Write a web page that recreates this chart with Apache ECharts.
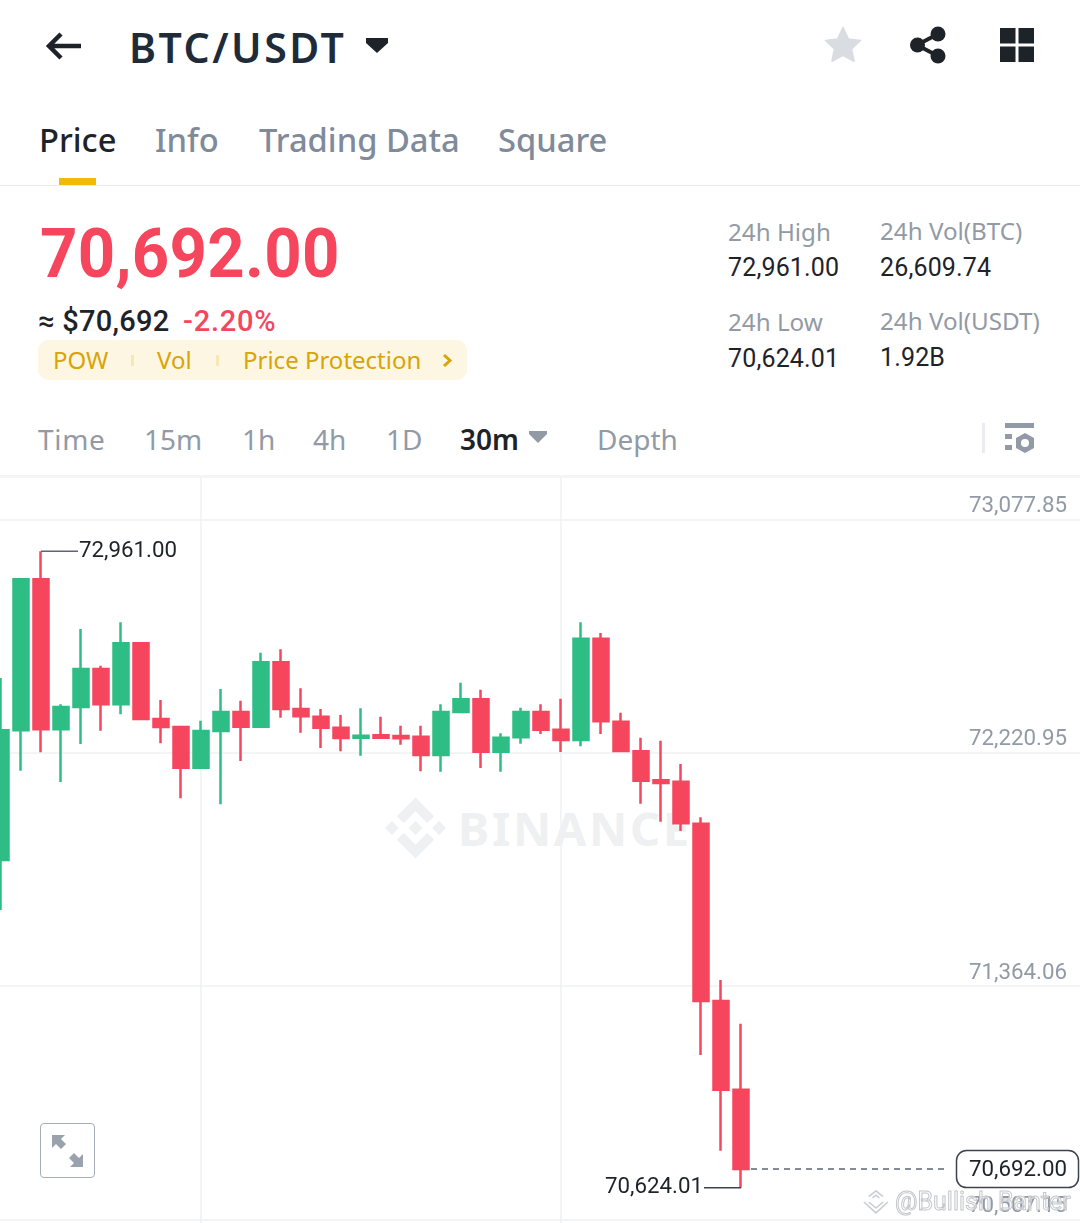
<!DOCTYPE html>
<html>
<head>
<meta charset="utf-8">
<title>BTC/USDT</title>
<script src="https://cdn.jsdelivr.net/npm/echarts@6/dist/echarts.min.js"></script>
<style>
  html, body { margin: 0; padding: 0; background: #fff; }
  #page { position: relative; width: 1080px; height: 1223px; overflow: hidden; font-family: 'Noto Sans', sans-serif; color: #1E2329; }
  #page span { position: absolute; white-space: nowrap; transform: translateY(-50%); line-height: 1; }
  #page svg, #page .box { position: absolute; }
  .tab { font-size: 32.7px; font-weight: 500; color: #7F8A9A; }
  .muted { font-size: 24.2px; color: #929AA5; }
  .stat { font-size: 25px; font-family: Roboto, sans-serif; letter-spacing: 0.15px; color: #1E2329; }
  .iv { font-size: 28px; color: #929AA5; }
  .chip { font-size: 24px; color: #D9A406; }
  /* 画布左右各多出一点，让 K 线间距正好 20px */
  #chart { position: absolute; left: -9px; top: 477px; width: 1100px; height: 746px; }
</style>
</head>
<body>
<div id="page">
  <!-- 顶栏 -->
  <svg style="left:44px;top:30px" width="40" height="32" viewBox="0 0 40 32"><path d="M37 16H5M17 4L5 16l12 12" fill="none" stroke="#1E2329" stroke-width="4.5"/></svg>
  <span style="left:129px;top:47px;font-size:41px;font-weight:600;color:#202B3A;letter-spacing:2.5px">BTC/USDT</span>
  <svg style="left:365px;top:37px" width="24" height="17"><path d="M1 1h22v5L12 16 1 6z" fill="#1E2329"/></svg>
  <svg style="left:822px;top:25px" width="42" height="40" viewBox="0 0 24 24"><path d="M12 1.5l3.2 6.9 7.3.9-5.4 5 1.5 7.4L12 18.1l-6.6 3.6 1.5-7.4-5.4-5 7.3-.9z" fill="#D9DCE1" stroke="#D9DCE1" stroke-linejoin="round"/></svg>
  <svg style="left:908px;top:24px" width="40" height="42" viewBox="0 0 40 42"><path d="M30 10L9 21l21 11" fill="none" stroke="#1E2329" stroke-width="4"/><circle cx="30" cy="10" r="7.5" fill="#1E2329"/><circle cx="9.5" cy="21" r="7.5" fill="#1E2329"/><circle cx="30" cy="32" r="7.5" fill="#1E2329"/></svg>
  <svg style="left:1000px;top:28px" width="34" height="34"><path d="M0 0h15.500v15.500H0zM18.500 0H34v15.500H18.500zM0 18.500h15.500V34H0zM18.500 18.500H34V34H18.500z" fill="#1E2329"/></svg>

  <span class="tab" style="left:39px;top:140px;color:#1E2329">Price</span>
  <span class="tab" style="left:155px;top:140px">Info</span>
  <span class="tab" style="left:259px;top:140px">Trading Data</span>
  <span class="tab" style="left:498px;top:140px">Square</span>
  <div class="box" style="left:59px;top:178px;width:37px;height:7px;background:#F0B90B"></div>
  <div class="box" style="left:0;top:185px;width:1080px;height:1px;background:#EAECEF"></div>

  <!-- 价格区 -->
  <span style="left:40px;top:254px;font-family:Roboto,sans-serif;font-size:68px;font-weight:700;color:#F6465D;letter-spacing:0.3px;transform:translateY(-50%) scaleX(0.96);transform-origin:left center">70,692.00</span>
  <span style="left:38px;top:321px;font-family:Roboto,sans-serif;font-size:29px;font-weight:500;letter-spacing:0.25px">≈ $70,692</span>
  <span style="left:183px;top:321px;font-family:Roboto,sans-serif;font-size:29px;font-weight:500;color:#F6465D;letter-spacing:0.8px">-2.20%</span>
  <div class="box" style="left:38px;top:340px;width:429px;height:40px;background:#FDF6E3;border-radius:10px"></div>
  <span class="chip" style="left:53px;top:360px">POW</span>
  <div class="box" style="left:131px;top:355px;width:3px;height:11px;background:#F6E7B4"></div>
  <span class="chip" style="left:157px;top:360px">Vol</span>
  <div class="box" style="left:216px;top:355px;width:3px;height:11px;background:#F6E7B4"></div>
  <span class="chip" style="left:243px;top:360px">Price Protection</span>
  <svg style="left:441px;top:352px" width="13" height="17"><path d="M3 3l6 5.500-6 5.500" fill="none" stroke="#D9A406" stroke-width="3"/></svg>

  <span class="muted" style="left:728px;top:232px">24h High</span>
  <span class="stat" style="left:728px;top:267px">72,961.00</span>
  <span class="muted" style="left:880px;top:231px">24h Vol(BTC)</span>
  <span class="stat" style="left:880px;top:267px">26,609.74</span>
  <span class="muted" style="left:728px;top:322px">24h Low</span>
  <span class="stat" style="left:728px;top:358px">70,624.01</span>
  <span class="muted" style="left:880px;top:321px">24h Vol(USDT)</span>
  <span class="stat" style="left:880px;top:357px">1.92B</span>

  <!-- 周期 -->
  <span class="iv" style="left:38px;top:439px;letter-spacing:0.7px">Time</span>
  <span class="iv" style="left:144px;top:439px">15m</span>
  <span class="iv" style="left:242px;top:439px">1h</span>
  <span class="iv" style="left:313px;top:439px">4h</span>
  <span class="iv" style="left:386px;top:439px">1D</span>
  <span class="iv" style="left:460px;top:439px;color:#1E2329;font-weight:600">30m</span>
  <svg style="left:529px;top:431px" width="18" height="12"><path d="M0 0h18v3l-9 9-9-9z" fill="#929AA5"/></svg>
  <span class="iv" style="left:597px;top:439px">Depth</span>
  <div class="box" style="left:982px;top:423px;width:3px;height:30px;background:#EAECEF"></div>
  <svg style="left:1005px;top:423px" width="30" height="30" viewBox="0 0 30 30"><path d="M0 0h29v5H0zM0 11h7v5H0zM0 22h7v5H0z" fill="#929AA5"/><path d="M20 10l9 5v10l-9 5-9-5V15z" fill="#929AA5"/><circle cx="20" cy="20" r="4" fill="#fff"/></svg>
  <div class="box" style="left:0;top:475px;width:1080px;height:3px;background:#F5F5F5"></div>

  <!-- 水印 -->
  <svg style="left:385px;top:797px" width="61" height="62" viewBox="0 0 126.61 126.61"><g fill="#EEF0F1"><path d="M38.73 53.2l24.59-24.58 24.6 24.6 14.3-14.31L63.32 0 24.43 38.9z"/><path d="M0 63.31l14.3-14.31 14.31 14.31-14.31 14.3z"/><path d="M38.73 73.41l24.59 24.59 24.6-24.6 14.31 14.29-38.9 38.91-38.91-38.88z"/><path d="M98 63.31l14.3-14.31 14.31 14.3-14.31 14.32z"/><path d="M77.83 63.3L63.32 48.78 48.81 63.28l14.51 14.5z"/></g></svg>
  <span style="left:458px;top:828px;font-size:47px;font-weight:700;color:#EEF0F1;letter-spacing:2.7px">BINANCE</span>

  <div id="chart"></div>

  <!-- 放大按钮 -->
  <div class="box" style="left:40px;top:1123px;width:53px;height:53px;border:1.5px solid #A6ADB9;border-radius:4px;background:#fff"></div>
  <svg style="left:51px;top:1135px" width="33" height="32" viewBox="0 0 33 32"><path d="M1 0h13l-4 4 5 5-5 5-5-5-4 4zM32 32H19l4-4-5-5 5-5 5 5 4-4z" fill="#9AA2AE"/></svg>
  <!-- 作者水印 -->
  <svg style="left:862px;top:1190px" width="28" height="24" viewBox="0 0 126.61 110" ><g fill="none" stroke="#C9CCD1" stroke-width="7"><path d="M30 30L63 4l33 26M47 36l16-12 16 12"/><path d="M8 55l55 50 55-50M30 55l33 28 33-28"/></g></svg>
  <span style="left:895px;top:1201px;font-family:Roboto,sans-serif;font-size:25px;color:rgba(255,255,255,0.55);-webkit-text-stroke:1px #C4C7CC">@Bullish Banter</span>
</div>

<script>
// K 线数据
const opens  = [71827.3, 72303.6, 72858.2, 72307.3, 72389.2, 72528.8, 72399.1, 72623.2, 72345.1, 72315.8, 72166.3, 72301.1, 72370.9, 72316.9, 72553.4, 72381.9, 72353.6, 72313.2, 72276.5, 72285.3, 72282.7, 72280.2, 72213.0, 72370.9, 72417.5, 72225.0, 72277.9, 72370.9, 72305.8, 72268.0, 72640.0, 72335.2, 72226.5, 72120.0, 72114.9, 71960.6, 71309.5, 70983.7];
const closes = [72303.6, 72858.2, 72307.3, 72389.2, 72528.8, 72399.1, 72623.2, 72345.1, 72315.8, 72166.3, 72301.1, 72370.9, 72316.9, 72553.4, 72381.9, 72355.1, 72313.2, 72275.4, 72283.9, 72276.5, 72274.2, 72213.0, 72370.9, 72417.5, 72225.0, 72276.5, 72370.9, 72305.8, 72268.0, 72640.0, 72336.7, 72227.6, 72118.5, 72110.1, 71962.1, 71309.5, 70983.7, 70692.00];
const lows   = [71643.6, 72155.3, 72222.9, 72113.8, 72253.3, 72302.2, 72362.4, 72345.1, 72255.9, 72053.9, 72166.3, 72031.9, 72190.9, 72316.9, 72349.9, 72294.8, 72238.6, 72226.5, 72210.4, 72276.5, 72250.8, 72153.1, 72151.6, 72370.9, 72165.2, 72151.6, 72254.4, 72290.0, 72223.9, 72244.9, 72290.0, 72223.9, 72034.1, 71968.0, 71933.8, 71111.2, 70759.7, 70624.01];
const highs  = [72495.7, 72858.2, 72961.00, 72399.1, 72675.7, 72540.9, 72700.3, 72623.2, 72414.9, 72315.8, 72338.9, 72455.3, 72412.4, 72588.7, 72601.1, 72457.9, 72381.9, 72359.9, 72384.5, 72353.6, 72320.5, 72320.5, 72399.1, 72478.5, 72452.8, 72292.6, 72386.6, 72399.1, 72419.7, 72700.3, 72661.0, 72368.3, 72276.5, 72265.4, 72179.9, 71984.1, 71386.6, 71226.1];

const axisPrices = [73077.85, 72220.95, 71364.06, 70507.15];
const highPrice = 72961.00;
const lowPrice = 70624.01;
const lastPrice = 70692.00;
const highIndex = 2;
const lastIndex = 37;
const gridLineIndexes = [10, 28];
const slots = 55;

const fmt = v => v.toLocaleString('en-US', { minimumFractionDigits: 2, maximumFractionDigits: 2 });
const UP = '#2EBD85';
const DOWN = '#F6465D';
const LINE = '#EEF0F2';
const OFFSET = 9; // 画布相对页面左移的距离

const chart = echarts.init(document.getElementById('chart'));
chart.setOption({
  animation: false,
  backgroundColor: 'transparent',
  grid: { left: 0, right: 0, top: 0, bottom: 0 },
  xAxis: {
    type: 'category',
    data: Array.from({ length: slots }, (_, i) => String(i)),
    axisLine: { show: false },
    axisTick: { show: false },
    axisLabel: { show: false },
    splitLine: { show: false },
  },
  yAxis: {
    type: 'value',
    position: 'right',
    min: 70494.1,
    max: 73233.9,
    axisLine: { show: false },
    axisTick: { show: false, customValues: axisPrices },
    axisLabel: {
      inside: true,
      customValues: axisPrices,
      formatter: v => fmt(v),
      margin: 24,
      color: '#929AA5',
      fontFamily: 'Roboto',
      fontSize: 22.3,
      verticalAlign: 'bottom',
      padding: [0, 0, 2, 0],
    },
    splitLine: { show: true, lineStyle: { color: LINE, width: 1.5 } },
  },
  series: [{
    type: 'candlestick',
    barWidth: 15.5,
    data: opens.map((o, i) => [o, closes[i], lows[i], highs[i]]),
    itemStyle: { color: UP, color0: DOWN, borderColor: UP, borderColor0: DOWN, borderWidth: 2.5 },
    markLine: {
      silent: true,
      symbol: 'none',
      z: 1,
      label: { show: false },
      lineStyle: { color: LINE, width: 1.5, type: 'solid' },
      data: gridLineIndexes.map(i => ({ xAxis: i })),
    },
  }],
});

// 最高/最低/最新价标注，位置由坐标轴换算
const at = (i, v) => chart.convertToPixel({ seriesIndex: 0 }, [i, v]);
const hi = at(highIndex, highPrice);
const lo = at(lastIndex, lowPrice);
const last = at(lastIndex, lastPrice);
const labelStyle = { fontFamily: 'Roboto', fontSize: 22.3, fill: '#1E2329' };
chart.setOption({
  graphic: [
    { type: 'line', shape: { x1: hi[0], y1: hi[1], x2: hi[0] + 37, y2: hi[1] }, style: { stroke: '#5E6673', lineWidth: 1.5 }, z: 10 },
    { type: 'text', x: hi[0] + 38, y: hi[1], style: { ...labelStyle, text: fmt(highPrice), verticalAlign: 'middle', align: 'left' }, z: 10 },
    { type: 'line', shape: { x1: lo[0], y1: lo[1], x2: lo[0] - 37, y2: lo[1] }, style: { stroke: '#3C434E', lineWidth: 1.5 }, z: 10 },
    { type: 'text', x: lo[0] - 38, y: lo[1], style: { ...labelStyle, text: fmt(lowPrice), verticalAlign: 'middle', align: 'right' }, z: 10 },
    { type: 'line', shape: { x1: last[0] + 10, y1: last[1], x2: 946 + OFFSET, y2: last[1] }, style: { stroke: '#5E6673', lineWidth: 1.5, lineDash: [6, 5] }, z: 10 },
    { type: 'rect', shape: { x: 956.5 + OFFSET, y: last[1] - 18.500, width: 122, height: 37, r: 10 }, style: { fill: '#fff', stroke: '#3C434E', lineWidth: 1.5 }, z: 10 },
    { type: 'text', x: 1018 + OFFSET, y: last[1] + 1, style: { ...labelStyle, text: fmt(lastPrice), verticalAlign: 'middle', align: 'center' }, z: 11 },
  ],
});

window.addEventListener('resize', () => chart.resize());
</script>
</body>
</html>
